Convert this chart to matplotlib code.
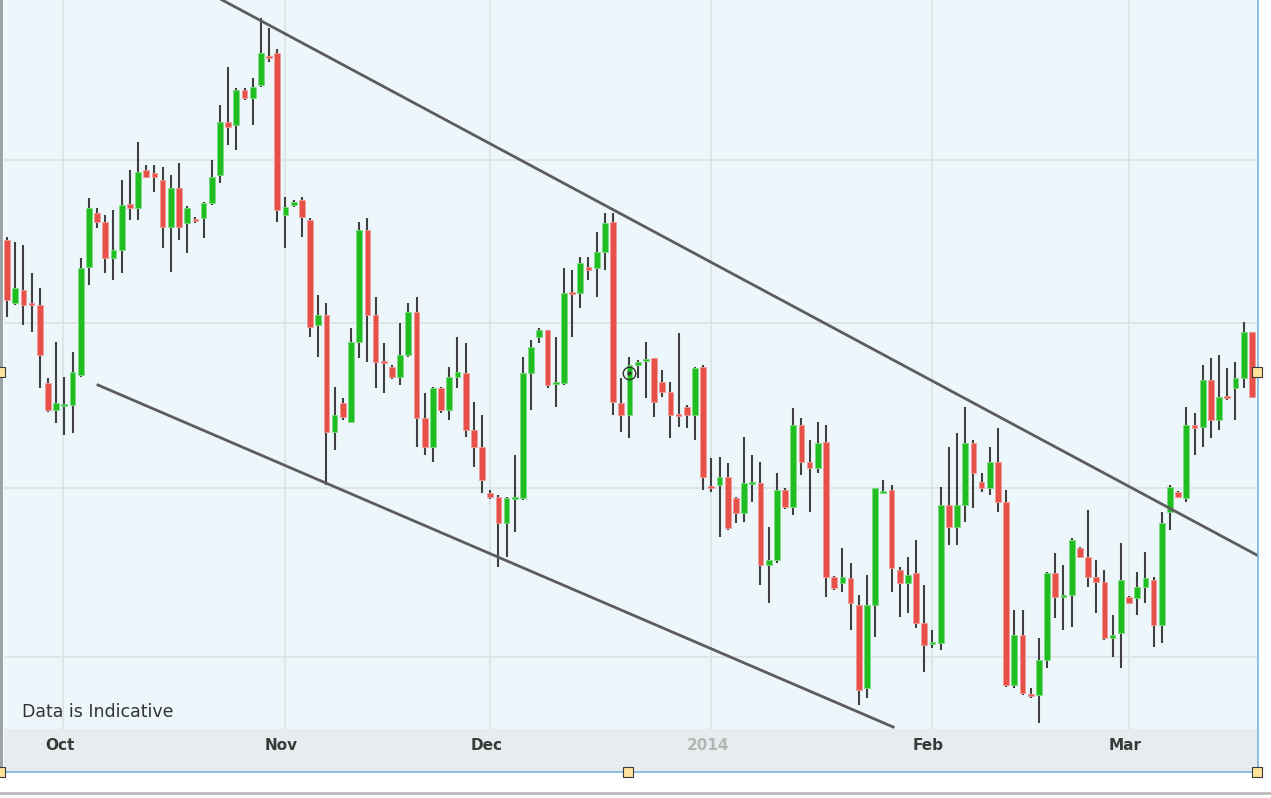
import matplotlib
matplotlib.use("Agg")
import matplotlib.pyplot as plt
import matplotlib.transforms as mtransforms
from matplotlib.patches import Rectangle
from matplotlib.lines import Line2D

# candle data (arbitrary price units)
opens = [560, 497, 510, 497, 495, 417, 390, 394, 395, 425,
         533, 587, 578, 542, 550, 596, 592, 630, 627, 620,
         573, 612, 577, 581, 582, 597, 625, 678, 675, 710,
         702, 715, 744, 747, 585, 595, 600, 580, 475, 485,
         368, 397, 378, 458, 570, 485, 439, 433, 423, 445,
         488, 382, 353, 412, 390, 423, 427, 370, 353, 307,
         303, 277, 301, 302, 427, 463, 470, 416, 417, 508,
         507, 533, 532, 548, 578, 397, 385, 435, 439, 442,
         418, 408, 386, 393, 385, 433, 314, 315, 323, 302,
         287, 316, 317, 235, 240, 310, 293, 375, 338, 332,
         358, 223, 217, 222, 195, 112, 195, 307, 310, 230,
         217, 227, 177, 156, 157, 295, 273, 295, 357, 318,
         312, 338, 298, 115, 165, 106, 105, 140, 227, 203,
         205, 252, 243, 223, 218, 162, 167, 203, 202, 213,
         220, 175, 288, 308, 302, 375, 373, 420, 380, 404,
         412, 422, 468]
highs = [563, 558, 555, 527, 512, 422, 458, 423, 448, 542,
         602, 592, 585, 590, 620, 630, 658, 635, 635, 633,
         625, 637, 594, 583, 598, 640, 695, 733, 712, 712,
         722, 782, 772, 751, 603, 600, 603, 582, 505, 497,
         413, 402, 472, 578, 582, 503, 457, 435, 477, 497,
         503, 407, 413, 413, 433, 463, 457, 398, 385, 310,
         305, 303, 345, 443, 460, 472, 470, 463, 532, 530,
         543, 543, 568, 587, 587, 422, 443, 440, 458, 442,
         430, 418, 467, 395, 433, 435, 342, 343, 337, 303,
         363, 345, 338, 273, 327, 312, 392, 382, 360, 378,
         375, 224, 252, 237, 205, 225, 312, 320, 315, 233,
         243, 260, 215, 170, 313, 353, 367, 393, 360, 327,
         353, 372, 310, 190, 190, 112, 162, 228, 247, 235,
         262, 253, 290, 240, 230, 185, 257, 204, 228, 248,
         223, 288, 315, 309, 393, 387, 435, 442, 445, 432,
         438, 478, 468]
lows = [483, 495, 475, 468, 412, 388, 377, 365, 367, 423,
        515, 572, 527, 520, 527, 580, 580, 622, 608, 552,
        528, 560, 547, 577, 562, 595, 617, 655, 650, 700,
        675, 713, 738, 578, 552, 593, 563, 463, 443, 315,
        350, 380, 377, 442, 438, 412, 407, 421, 415, 443,
        353, 345, 338, 387, 380, 412, 363, 333, 307, 301,
        233, 243, 268, 300, 390, 457, 412, 393, 415, 463,
        492, 520, 503, 530, 385, 368, 362, 422, 402, 383,
        403, 362, 373, 372, 360, 310, 308, 263, 270, 277,
        278, 298, 215, 197, 237, 291, 285, 325, 288, 327,
        203, 210, 208, 170, 95, 102, 163, 306, 208, 183,
        187, 172, 128, 152, 150, 255, 255, 278, 292, 308,
        305, 288, 113, 112, 105, 102, 77, 132, 182, 170,
        173, 242, 213, 187, 160, 143, 132, 196, 185, 197,
        153, 157, 270, 302, 298, 345, 353, 362, 370, 400,
        380, 412, 402]
closes = [500, 512, 495, 495, 445, 390, 397, 396, 428, 532,
          592, 578, 542, 550, 595, 592, 628, 623, 623, 573,
          612, 573, 592, 579, 597, 623, 678, 673, 710, 702,
          713, 747, 742, 590, 593, 598, 583, 473, 485, 368,
          385, 383, 458, 570, 485, 438, 437, 423, 445, 488,
          382, 353, 412, 390, 423, 428, 370, 353, 320, 303,
          277, 302, 303, 427, 453, 470, 415, 418, 507, 506,
          537, 530, 548, 577, 398, 385, 435, 438, 441, 398,
          408, 385, 384, 385, 432, 323, 312, 323, 272, 287,
          317, 318, 235, 240, 310, 293, 375, 338, 332, 357,
          223, 212, 223, 197, 110, 195, 312, 309, 232, 217,
          225, 177, 155, 158, 295, 273, 295, 357, 327, 312,
          338, 298, 115, 165, 107, 104, 140, 227, 203, 205,
          260, 243, 223, 218, 162, 165, 220, 197, 213, 222,
          175, 277, 313, 303, 375, 372, 420, 380, 403, 402,
          422, 468, 403]

month_labels = ["Oct", "Nov", "Dec", "2014", "Feb", "Mar"]
month_pos = [6.85, 33.95, 59.0, 86.0, 112.95, 137.0]
grid_levels = [640, 477, 312, 143]

# hand drawn channel lines
upper_x = [24.0, 152.6]
upper_y = [810, 245]
lower_x = [11.1, 108.2]
lower_y = [415, 73]

W, H = 1271, 798
BG = "#edf6fa"
BAND = "#e7edef"
GREEN = "#1fbf22"
RED = "#e8504a"


def px(x0, y0, x1, y1):
    # pixel box (top-left origin) -> figure fraction rect
    return [x0 / W, (H - y1) / H, (x1 - x0) / W, (y1 - y0) / H]


fig = plt.figure(figsize=(W / 100, H / 100), dpi=100)
fig.patch.set_facecolor("white")

# grey date band under the plot (kept behind the axes so labels show)
fig.add_artist(Rectangle((4 / W, (H - 772) / H), 1254 / W, 43 / H,
                         transform=fig.transFigure, fc=BAND, ec="none",
                         zorder=-1))

ax = fig.add_axes(px(4, 0, 1258, 729))
ax.set_facecolor(BG)
for s in ax.spines.values():
    s.set_visible(False)
ax.set_xlim(-0.37, 152.75)
ax.set_ylim(71, 800)
ax.set_xticks([])
ax.set_yticks([])

for g in grid_levels:
    ax.axhline(g, color="#dce2e5", lw=1.2, zorder=0)
for m in month_pos:
    ax.axvline(m, color="#dce2e5", lw=1.2, zorder=0)

for i in range(len(opens)):
    o, h, l, c = opens[i], highs[i], lows[i], closes[i]
    up = c >= o
    ax.vlines(i, l, h, color="#404040", lw=1.5, zorder=2)
    ax.bar(i, max(abs(c - o), 2.0), bottom=min(o, c), width=0.7,
           color=GREEN if up else RED,
           edgecolor="#7fdc80" if up else "#f19b96",
           linewidth=0.6, zorder=3)

ax.plot(upper_x, upper_y, color="#5c5c5c", lw=2.0, zorder=4)
ax.plot(lower_x, lower_y, color="#5c5c5c", lw=2.0, zorder=4)

# little cursor ring on one candle
ax.plot(76, 427, marker="o", ms=9, mfc="none", mec="#333333", mew=1.0, zorder=5)
ax.plot(76, 427, marker="o", ms=2, color="#333333", zorder=5)

ax.text((22 - 4) / 1254, (729 - 712) / 729, "Data is Indicative",
        transform=ax.transAxes, ha="left", va="center",
        fontsize=12.5, color="#333333")

trans = mtransforms.blended_transform_factory(ax.transData, ax.transAxes)
for m, lab in zip(month_pos, month_labels):
    ax.text(m - 0.45, (729 - 745) / 729, lab, transform=trans,
            ha="center", va="center", fontsize=11, fontweight="bold",
            color="#b5b5b5" if lab == "2014" else "#3a3a3a",
            clip_on=False, zorder=6)

# frame bits around the chart
fig.add_artist(Rectangle((0, (H - 772) / H), 3 / W, 772 / H,
                         transform=fig.transFigure, fc="#9aa3a6", ec="none"))
fig.add_artist(Line2D([0, 1258 / W], [(H - 771.5) / H] * 2,
                      transform=fig.transFigure, color="#7ab4e0", lw=1.2))
fig.add_artist(Line2D([1257.5 / W] * 2, [(H - 771.5) / H, 1],
                      transform=fig.transFigure, color="#7ab4e0", lw=1.2))
fig.add_artist(Line2D([0, 1], [(H - 793) / H] * 2,
                      transform=fig.transFigure, color="#b4b4b4", lw=1.8))

for hx, hy in [(0, 372), (1257, 372), (0, 772), (628, 772), (1257, 772)]:
    fig.add_artist(Rectangle(((hx - 5) / W, (H - hy - 5) / H), 10 / W, 10 / H,
                             transform=fig.transFigure, fc="#ffe39a",
                             ec="#3a3a3a", lw=0.8, zorder=10))

fig.savefig("out.png", dpi=100)
